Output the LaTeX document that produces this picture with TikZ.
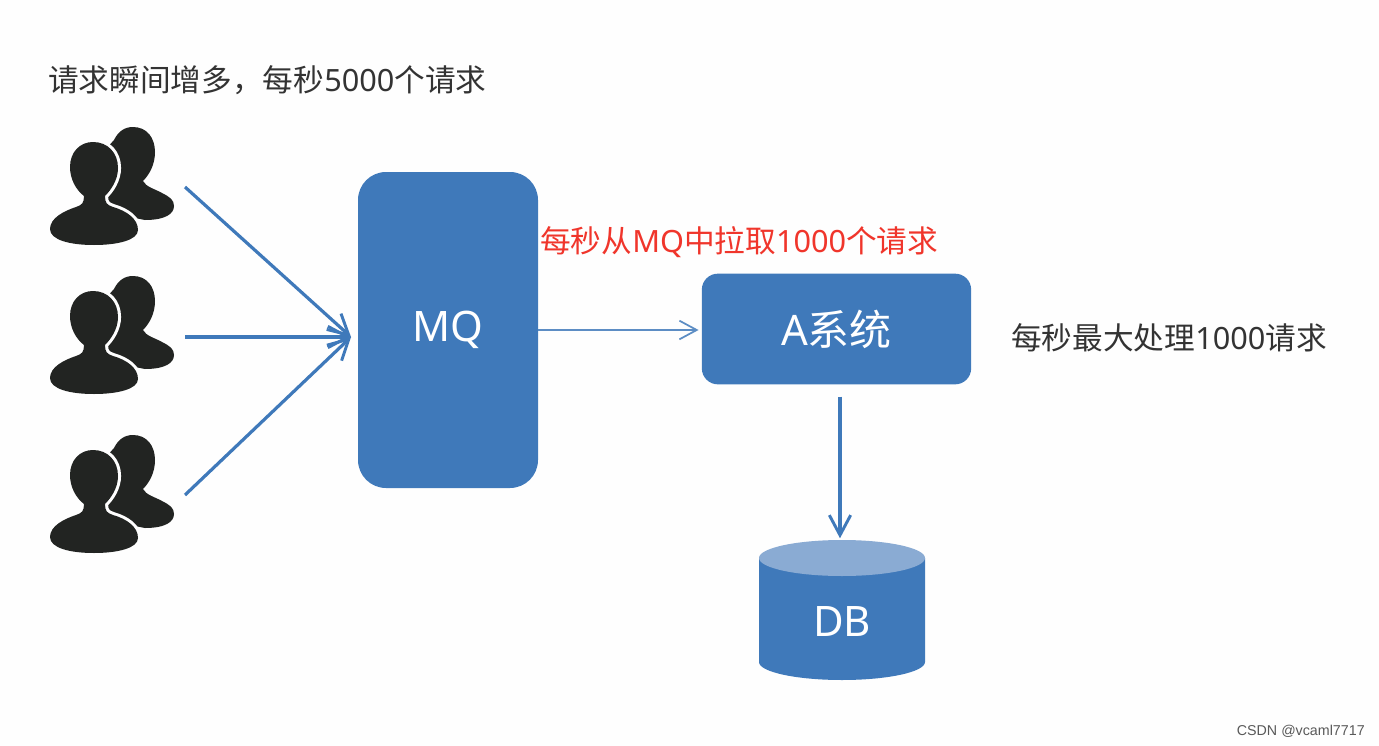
\documentclass[tikz,border=0pt]{standalone}
\usepackage{fontspec}
\setmainfont{Noto Sans CJK SC}
\newfontfamily\lat{Noto Sans}
\usetikzlibrary{arrows.meta,calc}
\definecolor{boxblue}{HTML}{3F79BA}
\definecolor{toplight}{HTML}{8AABD3}
\definecolor{inkdark}{HTML}{222422}
\definecolor{textdark}{HTML}{333333}
\definecolor{redtext}{HTML}{F0352B}
\definecolor{paper}{HTML}{FEFEFE}
\tikzset{
  x=0.75pt,y=-0.75pt,
  flow/.style={draw=boxblue,line width=2.4pt,-{Straight Barb[length=15pt,width=16pt,line width=2.2pt]}},
  thinflow/.style={draw=boxblue!85!white,line width=1.5pt,-{Straight Barb[length=13pt,width=14pt,line width=1.3pt]}},
  downflow/.style={draw=boxblue,line width=2.4pt,-{Straight Barb[length=15pt,width=16pt,line width=2.2pt]}},
  boxnode/.style={draw=none,fill=boxblue,text=white,inner sep=0pt,font=\fontsize{31.5}{36}\selectfont},
  caption/.style={anchor=west,inner sep=0pt,text=textdark,font=\fontsize{23}{27}\selectfont},
  redcaption/.style={caption,text=redtext},
  person/.pic={
    \fill[inkdark] (133,127) .. controls (147,127) and (155,138) .. (155,152)
      .. controls (155,165) and (149,175) .. (143,181)
      .. controls (146,187) and (155,189) .. (162,193)
      .. controls (170,197) and (174,200) .. (174,206)
      .. controls (174,214) and (165,220) .. (145,220)
      -- (125,216) -- (105,200) -- (105,150) -- (114,140)
      .. controls (118,132) and (124,127) .. (133,127) -- cycle;
    \fill[inkdark,preaction={draw=paper,line width=4.6pt,line join=round}] (93,142)
      .. controls (108,142) and (118,153) .. (118,168)
      .. controls (118,180) and (111,190) .. (105,196)
      .. controls (105,203) and (107,205) .. (113,207)
      .. controls (127,211) and (138,219) .. (138,230)
      .. controls (138,240) and (118,245) .. (94,245)
      .. controls (70,245) and (50,240) .. (50,229)
      .. controls (50,218) and (64,211) .. (76,207)
      .. controls (82,205) and (84,203) .. (84,196)
      .. controls (76,190) and (70,179) .. (70,167)
      .. controls (70,152) and (80,142) .. (93,142) -- cycle;
    \coordinate (-out) at (185,187);
  }
}
\begin{document}
\begin{tikzpicture}
\useasboundingbox (0,0) rectangle (1379,746);
\fill[paper] (0,0) rectangle (1379,746);

\node[caption] (top) at (48,80) {请求瞬间增多，每秒{\lat 5000}个请求};
\node[redcaption] (pull) at (540,242) {每秒从{\lat MQ}中拉取{\lat 1000}个请求};
\node[caption] (cap) at (1011,338) {每秒最大处理{\lat 1000}请求};

\pic (pa) at (0,0) {person};
\pic (pb) at (0,149) {person};
\pic (pc) at (0,308) {person};

\node[boxnode,rounded corners=21pt,minimum width=135pt,minimum height=237pt] (mq) at (448,330) {\lat MQ};
\node[boxnode,rounded corners=12pt,minimum width=202pt,minimum height=83pt] (a) at (836.5,329) {{\lat A}系统};

% database
\node[inner sep=0pt,minimum width=124.5pt,minimum height=105pt] (db) at (842,610.5) {};
\fill[boxblue] (759,558) -- (759,662) arc[x radius=83,y radius=18,start angle=180,end angle=0] -- (925,558) -- cycle;
\fill[toplight] (842,558) ellipse[x radius=83,y radius=18];
\node[text=white,inner sep=0pt,font=\lat\fontsize{31.5}{36}\selectfont] (dbl) at (842,621) {DB};

\coordinate (mqin) at (351,337);
\draw[flow] (pa-out) -- (mqin);
\draw[flow] (pb-out |- mqin) -- (mqin);
\coordinate (pcout) at (185,495);
\draw[flow] (pcout) -- (mqin);
\draw[thinflow] (mq.east) -- ($(a.west |- mq.east)+(-3,0)$);
\draw[downflow] ($(a.south)+(3.5,12)$) -- ($(db.north)+(-2,-2)$);

\node[anchor=east,inner sep=0pt,text=black!65,font=\fontspec{Liberation Sans}\fontsize{10.7}{12}\selectfont] (mark) at (1365,731) {CSDN @vcaml7717};
\end{tikzpicture}
\end{document}
